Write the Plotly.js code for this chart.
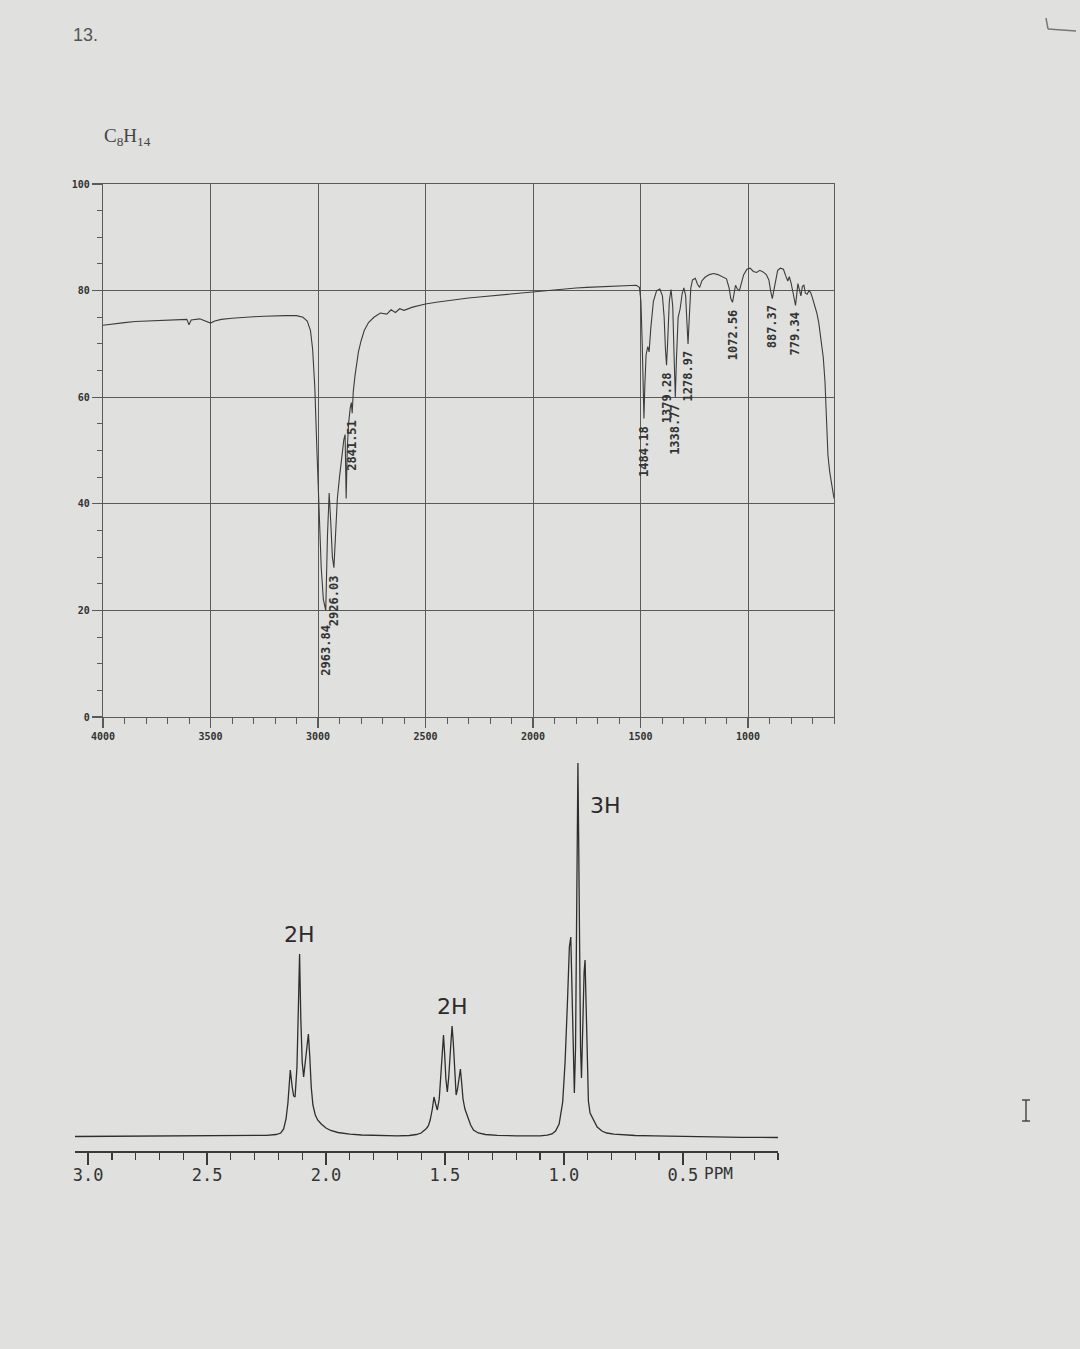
<!DOCTYPE html>
<html><head><meta charset="utf-8">
<script src="https://cdn.plot.ly/plotly-3.0.1.min.js"></script>
<style>html,body{margin:0;padding:0;background:#e0e0de;} #chart{width:1080px;height:1349px;}</style>
</head><body><div id="chart"></div>
<script>
// ---------- IR spectrum (wavenumber cm-1, %T) ----------
const irWavenumber = [4000,3950,3900,3850,3800,3750,3700,3650,3610,3600,3590,3550,3520,3500,3480,3450,3400,3350,3300,3250,3200,3150,3100,3070,3050,3035,3025,3015,3005,2995,2985,2975,2964,2956,2948,2940,2933,2926,2918,2910,2900,2890,2880,2874,2869,2864,2858,2850,2845,2841,2836,2828,2820,2812,2800,2785,2765,2740,2710,2680,2660,2640,2620,2600,2560,2500,2450,2400,2350,2300,2250,2200,2150,2100,2050,2000,1950,1900,1850,1800,1750,1700,1650,1600,1550,1520,1505,1498,1492,1488,1484,1480,1474,1466,1460,1452,1440,1425,1410,1398,1390,1384,1379,1374,1366,1358,1350,1344,1338,1333,1325,1316,1306,1298,1290,1284,1279,1273,1266,1258,1245,1235,1225,1215,1200,1180,1160,1140,1120,1100,1088,1080,1072,1066,1058,1050,1040,1030,1020,1005,990,975,960,945,930,915,903,895,887,880,872,862,850,835,825,815,808,800,790,784,779,774,768,760,754,747,740,733,725,716,708,700,690,680,671,660,650,642,635,628,620,610,600];
const irTransmittance = [73.5,73.8,74.0,74.2,74.3,74.4,74.5,74.6,74.6,73.6,74.5,74.7,74.2,73.9,74.3,74.6,74.8,75.0,75.1,75.2,75.3,75.3,75.3,75.0,74.3,72.5,69,62,50,38,28,22,20,34,42,36,30,28,36,41,45,49,52,53,41,50,55,58,59,57,61,64,66,68.5,70.5,72.5,74,75,75.8,75.6,76.4,75.9,76.6,76.3,76.9,77.5,77.8,78.1,78.3,78.6,78.8,79.0,79.2,79.4,79.6,79.8,80.0,80.2,80.3,80.5,80.6,80.7,80.8,80.9,81.0,81.0,80.6,78,70,62,56,62,68,69.5,68.5,73,78,80,80.3,79,75,69,66,70,78,80.2,77,68,60,67,75,76.5,79.5,80.5,79,74,70,75,80.5,82,82.3,81.2,80.6,81.8,82.5,83.0,83.2,83.0,82.6,82.2,80.5,78.5,77.8,79.5,81,80.3,80,81.5,83,84,84.2,83.6,83.4,83.8,83.5,83,82,80,78.5,80,82,83.8,84.2,84,82.8,81.8,82.6,81.5,79.5,78,77.2,79,81.3,80,79,80.8,81,79.5,79.3,80.0,79.6,78.6,77.3,75.8,74,71,67.5,63,56,49,46,43,41];
const irPeakWavenumber = [2963.84,2926.03,2841.51,1484.18,1379.28,1338.77,1278.97,1072.56,887.37,779.34];
const irPeakLabel = ['2963.84','2926.03','2841.51','1484.18','1379.28','1338.77','1278.97','1072.56','887.37','779.34'];
const irPeakTransmittance = [20,28,57,56,66,60,70,77.8,78.5,77.2];
const irXTickValues = [4000,3500,3000,2500,2000,1500,1000];
const irXTickLabels = ['4000','3500','3000','2500','2000','1500','1000'];
const irYTickValues = [0,20,40,60,80,100];
const irYTickLabels = ['0','20','40','60','80','100'];
const formulaText = 'C<sub>8</sub>H<sub>14</sub>';
const problemNumber = '13.';

// ---------- 1H NMR spectrum (ppm, intensity) ----------
const nmrPpm = [3.055,2.9,2.7,2.5,2.35,2.25,2.21,2.19,2.178,2.168,2.16,2.155,2.150,2.142,2.136,2.130,2.122,2.116,2.111,2.106,2.100,2.094,2.086,2.079,2.074,2.068,2.062,2.055,2.045,2.035,2.02,2.0,1.98,1.95,1.90,1.85,1.80,1.75,1.70,1.65,1.62,1.60,1.59,1.578,1.57,1.562,1.553,1.546,1.539,1.532,1.524,1.516,1.510,1.506,1.501,1.496,1.490,1.484,1.476,1.470,1.465,1.459,1.453,1.447,1.441,1.435,1.430,1.424,1.416,1.408,1.400,1.392,1.38,1.36,1.33,1.28,1.2,1.15,1.10,1.07,1.05,1.035,1.02,1.005,0.995,0.985,0.977,0.971,0.966,0.961,0.956,0.951,0.946,0.943,0.941,0.938,0.934,0.930,0.926,0.921,0.915,0.911,0.906,0.902,0.897,0.89,0.882,0.875,0.86,0.84,0.82,0.79,0.75,0.70,0.62,0.55,0.45,0.35,0.25,0.1];
const nmrIntensity = [0.5,0.6,0.8,1.0,1.2,1.6,2.5,4,8,18,34,52,67,50,41,40,70,130,183,120,75,60,80,98,103,80,50,32,22,17,13,9,6.5,4.5,2.8,2.0,1.5,1.2,1.2,1.5,2.5,4,6,8.5,11,17,28,40,33,27,38,65,88,102,82,58,45,60,90,111,95,62,42,48,60,68,55,38,28,22,18,12,7,4,2.5,1.6,1.2,1.0,1.2,1.8,3,6,13,35,75,135,190,200,150,80,44,90,200,290,374,300,190,90,59,110,165,177,120,65,36,24,20,16,10,6,4,2.8,2.0,1.5,1.2,0.8,0.3,0,-0.3,-0.5];
const nmrTickValues = [3.0,2.5,2.0,1.5,1.0,0.5];
const nmrTickLabels = ['3.0','2.5','2.0','1.5','1.0','0.5'];
const integrationLabel = ['2H','2H','3H'];
const integrationPpm = [2.111,1.470,0.941];
const integrationHeight = [183,111,374];

// ---------- layout helpers (pixel geometry) ----------
const W = 1080, H = 1349;
const px = v => v / W;
const py = v => 1 - v / H;
const ink = '#3a3a3a';
const grid = '#5a5a5a';

const irTrace = {
  x: irWavenumber, y: irTransmittance, xaxis: 'x', yaxis: 'y',
  type: 'scatter', mode: 'lines', line: {color: '#3c3c3c', width: 1.1}, hoverinfo: 'skip'
};
const nmrTrace = {
  x: nmrPpm, y: nmrIntensity, xaxis: 'x2', yaxis: 'y2',
  type: 'scatter', mode: 'lines', line: {color: '#2e2e2e', width: 1.3}, hoverinfo: 'skip'
};

const annotations = [];
irPeakWavenumber.forEach((w, i) => {
  annotations.push({
    xref: 'x', yref: 'y', x: w, y: irPeakTransmittance[i], text: irPeakLabel[i],
    textangle: -90, showarrow: false, xanchor: 'center', yanchor: 'top', yshift: i === 0 ? -12 : -5,
    font: {family: 'DejaVu Sans Mono', size: 12, color: '#333', weight: 'bold'}
  });
});
integrationLabel.forEach((t, i) => {
  const beside = i === 2;
  annotations.push({
    xref: 'x2', yref: 'y2', x: integrationPpm[i],
    y: beside ? integrationHeight[i] - 42 : integrationHeight[i],
    text: t, showarrow: false,
    xanchor: beside ? 'left' : 'center', yanchor: beside ? 'middle' : 'bottom',
    xshift: beside ? 10 : 0, yshift: beside ? 0 : 5,
    font: {family: 'DejaVu Sans', size: 22, color: '#2a2a2a'}
  });
});
annotations.push({
  xref: 'paper', yref: 'paper', x: px(702), y: py(1173), text: 'PPM', showarrow: false,
  xanchor: 'left', yanchor: 'middle', font: {family: 'DejaVu Sans Mono', size: 16, color: '#333'}
});
annotations.push({
  xref: 'paper', yref: 'paper', x: px(102), y: py(137), text: formulaText, showarrow: false,
  xanchor: 'left', yanchor: 'middle', font: {family: 'Liberation Serif', size: 19, color: '#444'}
});
annotations.push({
  xref: 'paper', yref: 'paper', x: px(71), y: py(35), text: problemNumber, showarrow: false,
  xanchor: 'left', yanchor: 'middle', font: {family: 'Liberation Sans', size: 18, color: '#555'}
});

// screen artefacts visible in the photo: window corner (top right) and I-beam cursor
const shapes = [
  {type: 'line', xref: 'paper', yref: 'paper', x0: px(1046), y0: py(18), x1: px(1048), y1: py(29), line: {color: '#777', width: 1.5}},
  {type: 'line', xref: 'paper', yref: 'paper', x0: px(1048), y0: py(29), x1: px(1076), y1: py(31), line: {color: '#777', width: 1.5}},
  {type: 'line', xref: 'paper', yref: 'paper', x0: px(1026), y0: py(1100), x1: px(1026), y1: py(1121), line: {color: '#333', width: 1.3}},
  {type: 'line', xref: 'paper', yref: 'paper', x0: px(1022), y0: py(1100), x1: px(1030), y1: py(1100), line: {color: '#333', width: 1.3}},
  {type: 'line', xref: 'paper', yref: 'paper', x0: px(1022), y0: py(1121), x1: px(1030), y1: py(1121), line: {color: '#333', width: 1.3}}
];

const layout = {
  width: W, height: H, margin: {l: 0, r: 0, t: 0, b: 0, pad: 0},
  paper_bgcolor: '#e0e0de', plot_bgcolor: 'rgba(0,0,0,0)', showlegend: false,
  xaxis: {
    domain: [px(103), px(834)], range: [4000, 600], anchor: 'y',
    showline: true, mirror: true, linecolor: grid, linewidth: 1.3,
    showgrid: true, gridcolor: grid, gridwidth: 1, zeroline: false,
    tickmode: 'array', tickvals: irXTickValues, ticktext: irXTickLabels,
    ticks: 'outside', ticklen: 10, tickwidth: 1.2, tickcolor: grid,
    minor: {tick0: 0, dtick: 100, ticks: 'outside', ticklen: 6, tickwidth: 1, tickcolor: grid, showgrid: false},
    tickfont: {family: 'DejaVu Sans Mono', size: 10, color: '#333', weight: 'bold'}
  },
  yaxis: {
    domain: [py(717), py(184)], range: [0, 100], anchor: 'x',
    showline: true, mirror: true, linecolor: grid, linewidth: 1.3,
    showgrid: true, gridcolor: grid, gridwidth: 1, zeroline: false,
    tickmode: 'array', tickvals: irYTickValues, ticktext: irYTickLabels,
    ticks: 'outside', ticklen: 10, tickwidth: 1.2, tickcolor: grid,
    minor: {tick0: 0, dtick: 5, ticks: 'outside', ticklen: 5, tickwidth: 1, tickcolor: grid, showgrid: false},
    tickfont: {family: 'DejaVu Sans Mono', size: 10, color: '#333', weight: 'bold'}
  },
  xaxis2: {
    domain: [px(75), px(778)], range: [3.055, 0.1], anchor: 'y2',
    showline: true, linecolor: ink, linewidth: 1.6, showgrid: false, zeroline: false,
    tickmode: 'array', tickvals: nmrTickValues, ticktext: nmrTickLabels,
    ticks: 'outside', ticklen: 12, tickwidth: 1.4, tickcolor: ink, ticklabelstandoff: -4,
    minor: {tick0: 0, dtick: 0.1, ticks: 'outside', ticklen: 7, tickwidth: 1.3, tickcolor: ink, showgrid: false},
    tickfont: {family: 'DejaVu Sans Mono', size: 17, color: '#333'}
  },
  yaxis2: {
    domain: [py(1151), py(751)], range: [-14, 386], anchor: 'x2', visible: false
  },
  shapes: shapes,
  annotations: annotations
};

Plotly.newPlot('chart', [irTrace, nmrTrace], layout, {staticPlot: true, displayModeBar: false});
</script></body></html>
